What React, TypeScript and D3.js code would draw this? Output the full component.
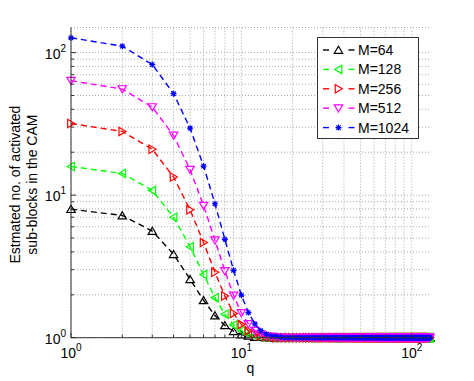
import React from "react";
import * as d3 from "d3";

// q = 1..128 (integer number of bits / sub-block index)
const qValues: number[] = d3.range(1, 129);

const ONES16 = [1, 1, 1, 1, 1, 1, 1, 1, 1, 1, 1, 1, 1, 1, 1, 1];

const m64: number[] = [
  7.97, 7.2, 5.6, 3.85, 2.57, 1.83, 1.43, 1.22, 1.11, 1.05, 1.03, 1.01, 1.01, 1, 1, 1,
  ...ONES16, ...ONES16, ...ONES16, ...ONES16, ...ONES16, ...ONES16, ...ONES16,
];
const m128: number[] = [
  15.9, 14.2, 10.8, 7.0, 4.35, 2.78, 1.91, 1.46, 1.23, 1.12, 1.06, 1.03, 1.01, 1.01, 1, 1,
  ...ONES16, ...ONES16, ...ONES16, ...ONES16, ...ONES16, ...ONES16, ...ONES16,
];
const m256: number[] = [
  31.8, 28.0, 21.0, 13.4, 7.9, 4.65, 2.88, 1.96, 1.48, 1.24, 1.12, 1.06, 1.03, 1.02, 1.01, 1,
  ...ONES16, ...ONES16, ...ONES16, ...ONES16, ...ONES16, ...ONES16, ...ONES16,
];
const m512: number[] = [
  63.5, 55.5, 41.5, 26.2, 15.1, 8.45, 4.83, 2.94, 1.98, 1.49, 1.25, 1.12, 1.06, 1.03, 1.02, 1.01,
  ...ONES16, ...ONES16, ...ONES16, ...ONES16, ...ONES16, ...ONES16, ...ONES16,
];
const m1024: number[] = [
  127, 111, 82.5, 51.5, 29.5, 16.0, 8.7, 4.9, 2.97, 1.99, 1.5, 1.25, 1.12, 1.06, 1.03, 1.02,
  1.01, 1, 1, 1, 1, 1, 1, 1, 1, 1, 1, 1, 1, 1, 1, 1,
  ...ONES16, ...ONES16, ...ONES16, ...ONES16, ...ONES16, ...ONES16,
];

const seriesLabels = ["M=64", "M=128", "M=256", "M=512", "M=1024"];
const seriesColors = ["#000000", "#00ff00", "#ff0000", "#ff00ff", "#0000ff"];
const seriesMarkers = ["up", "left", "right", "down", "star"];
const seriesValues = [m64, m128, m256, m512, m1024];

const xDomain: [number, number] = [1, 128];
const yDomain: [number, number] = [1, 150];
const majorTicks = [1, 10, 100];
const majorExp = ["0", "1", "2"];

const W = 474;
const H = 381;
const left = 71;
const right = 430;
const top = 27.5;
const bottom = 337.7;
const FONT = "'Liberation Sans', Arial, Helvetica, sans-serif";

function Marker({ kind, x, y, color }: { kind: string; x: number; y: number; color: string }) {
  const sw = 1.2;
  let d = "";
  if (kind === "up") d = `M${x},${y - 3.8}L${x + 4.2},${y + 3.3}L${x - 4.2},${y + 3.3}Z`;
  else if (kind === "down") d = `M${x},${y + 3.8}L${x + 4.2},${y - 3.3}L${x - 4.2},${y - 3.3}Z`;
  else if (kind === "left") d = `M${x - 3.8},${y}L${x + 3.3},${y - 4.2}L${x + 3.3},${y + 4.2}Z`;
  else if (kind === "right") d = `M${x + 3.8},${y}L${x - 3.3},${y - 4.2}L${x - 3.3},${y + 4.2}Z`;
  else {
    const r = 3;
    const r2 = 2.2;
    d = `M${x - r},${y}L${x + r},${y}M${x},${y - r}L${x},${y + r}M${x - r2},${y - r2}L${x + r2},${y + r2}M${x - r2},${y + r2}L${x + r2},${y - r2}`;
  }
  return <path d={d} fill="none" stroke={color} strokeWidth={sw} />;
}

export default function App() {
  const x = d3.scaleLog().domain(xDomain).range([left, right]);
  const y = d3.scaleLog().domain(yDomain).range([bottom, top]);

  const minorX: number[] = [];
  const minorY: number[] = [];
  for (const base of [1, 10, 100]) {
    for (let k = 1; k <= 9; k++) {
      const v = base * k;
      if (v >= xDomain[0] && v <= xDomain[1]) minorX.push(v);
      if (v >= yDomain[0] && v <= yDomain[1]) minorY.push(v);
    }
  }

  const line = d3
    .line<number>()
    .x((_, i) => x(qValues[i]))
    .y((v) => y(v));

  const gridColor = "#a8a8a8";

  return (
    <div>
      <style>{`body{margin:0;}`}</style>
      <svg width={W} height={H} style={{ display: "block", background: "#fff" }}>
        {/* grid */}
        <g stroke={gridColor} strokeWidth={1} strokeDasharray="1,2">
          {minorX.map((v) => (
            <line key={"gx" + v} x1={x(v)} x2={x(v)} y1={bottom} y2={top} />
          ))}
          {minorY.map((v) => (
            <line key={"gy" + v} x1={left} x2={right} y1={y(v)} y2={y(v)} />
          ))}
          <line x1={left} x2={right} y1={top} y2={top} />
        </g>

        {/* series */}
        {seriesValues.map((vals, si) => (
          <g key={"s" + si}>
            <path
              d={line(vals) || ""}
              fill="none"
              stroke={seriesColors[si]}
              strokeWidth={1.4}
              strokeDasharray="6,4"
            />
            {vals.map((v, i) => (
              <Marker key={i} kind={seriesMarkers[si]} x={x(qValues[i])} y={y(v)} color={seriesColors[si]} />
            ))}
          </g>
        ))}

        {/* axes */}
        <g stroke="#333" strokeWidth={1}>
          <line x1={left} x2={left} y1={top} y2={bottom} />
          <line x1={left} x2={right} y1={bottom} y2={bottom} />
          {minorX.map((v) => (
            <line key={"tx" + v} x1={x(v)} x2={x(v)} y1={bottom} y2={bottom - (majorTicks.includes(v) ? 5 : 3)} />
          ))}
          {minorY.map((v) => (
            <line key={"ty" + v} x1={left} x2={left + (majorTicks.includes(v) ? 5 : 3)} y1={y(v)} y2={y(v)} />
          ))}
        </g>

        {/* tick labels */}
        <g fontFamily={FONT} fill="#000">
          {majorTicks.map((v, i) => (
            <text key={"xl" + v} x={x(v)} y={358} fontSize={14} textAnchor="middle">
              10
              <tspan fontSize={10} dy={-7}>
                {majorExp[i]}
              </tspan>
            </text>
          ))}
          {majorTicks.map((v, i) => (
            <text key={"yl" + v} x={66} y={y(v) + 6} fontSize={14} textAnchor="end">
              10
              <tspan fontSize={10} dy={-7}>
                {majorExp[i]}
              </tspan>
            </text>
          ))}
          <text x={(left + right) / 2} y={373} fontSize={14} textAnchor="middle">
            q
          </text>
          <text
            transform={`translate(20,${(top + bottom) / 2 + 2}) rotate(-90)`}
            fontSize={14}
            textAnchor="middle"
          >
            Estmated no. of activated
          </text>
          <text
            transform={`translate(37,${(top + bottom) / 2 + 2}) rotate(-90)`}
            fontSize={14}
            textAnchor="middle"
          >
            sub-blocks in the CAM
          </text>
        </g>

        {/* legend */}
        <g>
          <rect x={317.5} y={37.5} width={101} height={101} fill="#fff" stroke="#333" strokeWidth={1} />
          {seriesLabels.map((lab, i) => {
            const cy = 50 + i * 19.4;
            return (
              <g key={"lg" + i}>
                <line x1={323} x2={329} y1={cy} y2={cy} stroke={seriesColors[i]} strokeWidth={1.4} />
                <line x1={348.5} x2={354.5} y1={cy} y2={cy} stroke={seriesColors[i]} strokeWidth={1.4} />
                <Marker kind={seriesMarkers[i]} x={338.5} y={cy} color={seriesColors[i]} />
                <text x={358} y={cy + 5} fontSize={14} fontFamily={FONT} fill="#000">
                  {lab}
                </text>
              </g>
            );
          })}
        </g>
      </svg>
    </div>
  );
}
